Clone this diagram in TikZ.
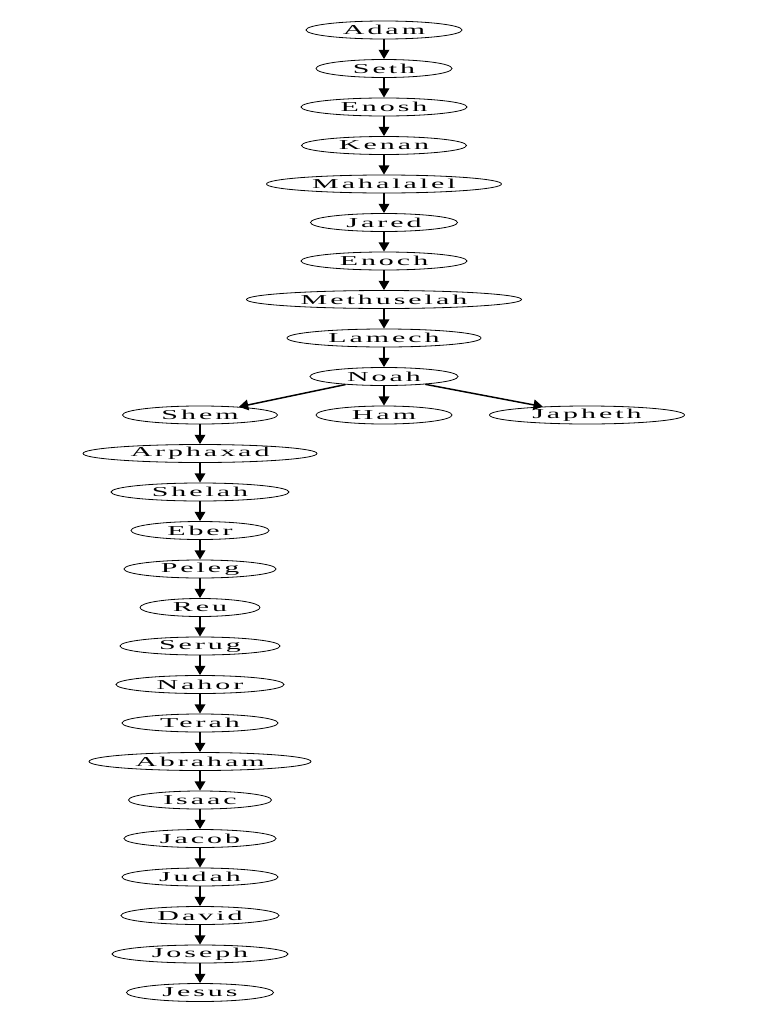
\documentclass[tikz,border=0pt]{standalone}
\usepackage{fontspec}
\newfontfamily\gvfont[LetterSpace=10]{Liberation Serif}
\newcommand{\gv}[1]{\scalebox{2.2}[1]{#1}}
\usetikzlibrary{arrows.meta,shapes.geometric}
\tikzset{
	person/.style={draw, ellipse, line width=0.6pt, inner sep=0pt, minimum height=13.5pt, font={\fontsize{10.2}{10}\gvfont}},
	wd/.style={minimum width=#1*0.75pt},
	child/.style={-{Triangle[length=7pt,width=8pt]}, line width=1.1pt}
}

\begin{document}
\begin{tikzpicture}[x=0.75pt, y=-0.75pt]
				\useasboundingbox (0,0) rectangle (768,1024);
				
				\node[person, wd=156] (adam) at (384,30) {\gv{Adam}};
				\node[person, wd=136] (seth) at (384,68.5) {\gv{Seth}};
				\node[person, wd=166] (enosh) at (384,107) {\gv{Enosh}};
				\node[person, wd=165] (kenan) at (384,145.5) {\gv{Kenan}};
				\node[person, wd=235] (mahalalel) at (384,184) {\gv{Mahalalel}};
				\node[person, wd=147] (jared) at (384,222.5) {\gv{Jared}};
				\node[person, wd=166] (enoch) at (384,261) {\gv{Enoch}};
				\node[person, wd=275] (methuselah) at (384,299.5) {\gv{Methuselah}};
				\node[person, wd=194] (lamech) at (384,338) {\gv{Lamech}};
				\node[person, wd=148] (noah) at (384,376.5) {\gv{Noah}};
				
				\node[person, wd=155] (shem) at (200,415) {\gv{Shem}};
				\node[person, wd=136] (ham) at (384,415) {\gv{Ham}};
				\node[person, wd=195] (japheth) at (587,415) {\gv{Japheth}};
				
				\node[person, wd=234] (arphaxad) at (200,453.5) {\gv{Arphaxad}};
				\node[person, wd=178] (shelah) at (200,492) {\gv{Shelah}};
				\node[person, wd=138] (eber) at (200,530.5) {\gv{Eber}};
				\node[person, wd=152] (peleg) at (200,569) {\gv{Peleg}};
				\node[person, wd=120] (reu) at (200,607.5) {\gv{Reu}};
				\node[person, wd=160] (serug) at (200,646) {\gv{Serug}};
				\node[person, wd=168] (nahor) at (200,684.5) {\gv{Nahor}};
				\node[person, wd=156] (terah) at (200,723) {\gv{Terah}};
				\node[person, wd=222] (abraham) at (200,761.5) {\gv{Abraham}};
				\node[person, wd=143] (isaac) at (200,800) {\gv{Isaac}};
				\node[person, wd=152] (jacob) at (200,838.5) {\gv{Jacob}};
				\node[person, wd=156] (judah) at (200,877) {\gv{Judah}};
				\node[person, wd=158] (david) at (200,915.5) {\gv{David}};
				\node[person, wd=176] (joseph) at (200,954) {\gv{Joseph}};
				\node[person, wd=147] (jesus) at (200,992.5) {\gv{Jesus}};
				
				\draw[child] (adam) -- (seth);
				\draw[child] (seth) -- (enosh);
				\draw[child] (enosh) -- (kenan);
				\draw[child] (kenan) -- (mahalalel);
				\draw[child] (mahalalel) -- (jared);
				\draw[child] (jared) -- (enoch);
				\draw[child] (enoch) -- (methuselah);
				\draw[child] (methuselah) -- (lamech);
				\draw[child] (lamech) -- (noah);
				
				\draw[child] (noah) -- (shem);
				\draw[child] (noah) -- (ham);
				\draw[child] (noah) -- (japheth);
				
				\draw[child] (shem) -- (arphaxad);
				\draw[child] (arphaxad) -- (shelah);
				\draw[child] (shelah) -- (eber);
				\draw[child] (eber) -- (peleg);
				\draw[child] (peleg) -- (reu);
				\draw[child] (reu) -- (serug);
				\draw[child] (serug) -- (nahor);
				\draw[child] (nahor) -- (terah);
				\draw[child] (terah) -- (abraham);
				\draw[child] (abraham) -- (isaac);
				\draw[child] (isaac) -- (jacob);
				\draw[child] (jacob) -- (judah);
				\draw[child] (judah) -- (david);
				\draw[child] (david) -- (joseph);
				\draw[child] (joseph) -- (jesus);
			\end{tikzpicture}
\end{document}
